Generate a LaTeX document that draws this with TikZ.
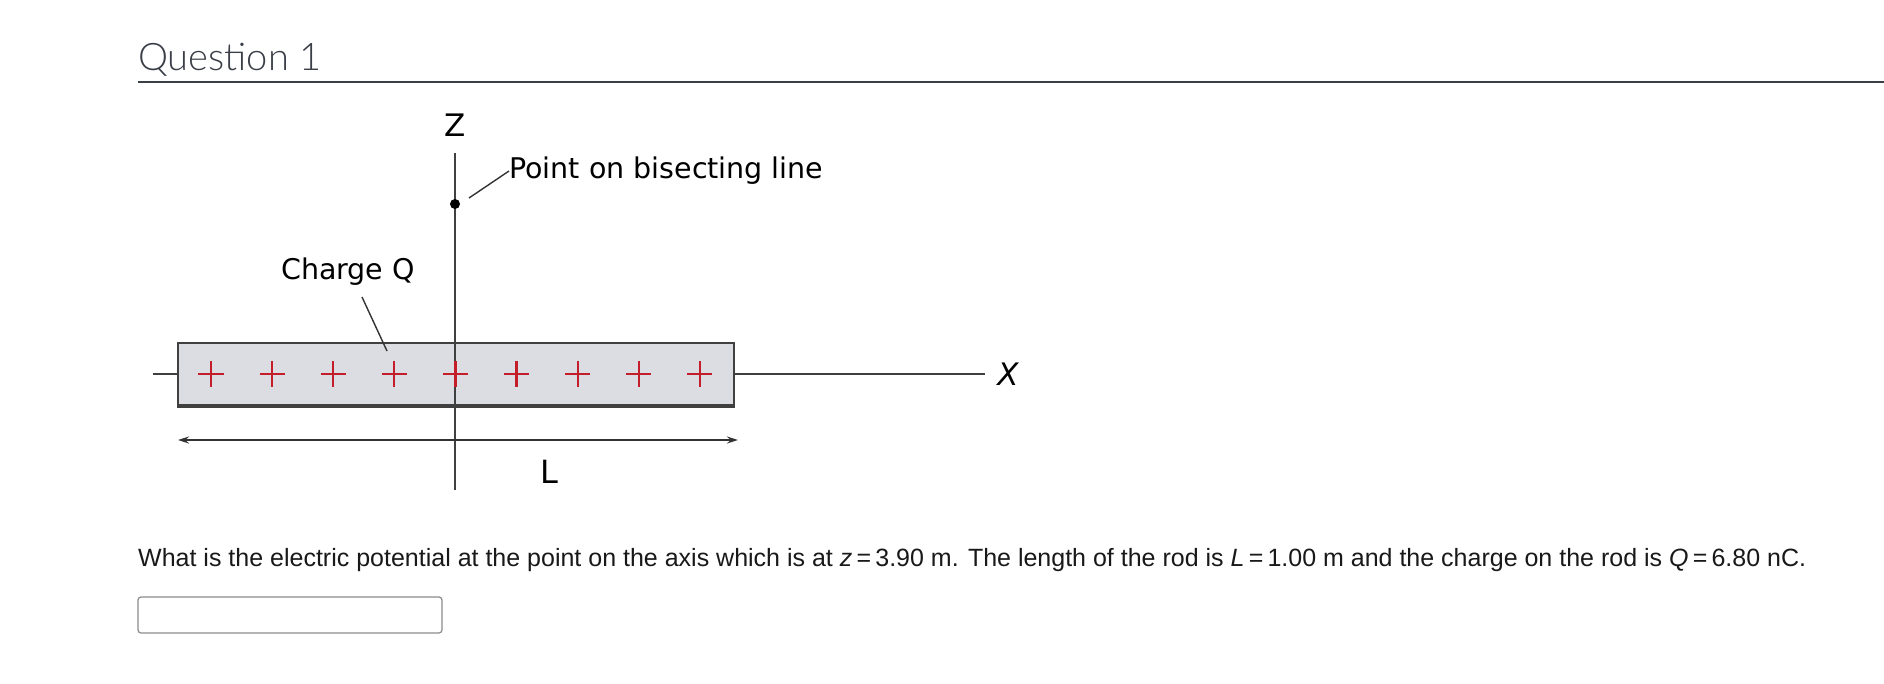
\documentclass[tikz,border=0pt]{standalone}
\usepackage{fontspec}
\setmainfont{DejaVu Sans}
\newfontfamily\quizfont{Liberation Sans}
\newfontfamily\headfont{Lato}[UprightFont={* Light}]
\usetikzlibrary{shapes,arrows,arrows.meta,positioning,calc}

\definecolor{rodfill}{HTML}{DCDCE3}
\definecolor{plusred}{HTML}{C41E2A}
\definecolor{headgray}{HTML}{3A3F47}

\begin{document}
\begin{tikzpicture}[x=1pt, y=-1pt,
    axis/.style={draw=black!75, line width=2pt},
    leader/.style={draw=black!80, line width=1.4pt},
    plussign/.style={cross out, draw=plusred, line width=2.2pt, rotate=45, minimum size=15.5pt, inner sep=0pt},
    lbl/.style={font=\fontsize{28.5}{28.5}\selectfont, inner sep=0pt}]
    \useasboundingbox[fill=white] (0,0) rectangle (1884,683);

    % Heading
    \node[anchor=base west, inner sep=0pt, text=headgray, font=\headfont\fontsize{38}{38}\selectfont] (title) at (138,70) {Question 1};
    \coordinate (ruleL) at (138,82);
    \coordinate (ruleR) at (1884,82);
    \draw[headgray, line width=1.2pt] (ruleL) -- (ruleR);

    % Rod and axes
    \node[rectangle, draw=black!75, line width=2pt, fill=rodfill, minimum width=556pt, minimum height=62pt] (rod) at (456,374) {};
    \draw[black!75, line width=3pt] (rod.south west) -- (rod.south east);
    \coordinate (xleft) at (153,374);
    \coordinate (xright) at (985,374);
    \coordinate (ztop) at (455,153);
    \coordinate (zbot) at (455,490);
    \draw[axis] (xleft) -- (rod.west);
    \draw[axis] (rod.east) -- (xright);
    \draw[axis] (ztop) -- (zbot);
    \foreach \i in {0,...,8}
        \node[plussign] (plus\i) at (211+61.1*\i,374) {};

    \node[font=\fontsize{31}{31}\selectfont, inner sep=0pt] (zlabel) at (455,125) {Z};
    \node[font=\fontsize{31}{31}\selectfont\itshape, inner sep=0pt] (xlabel) at (1008,374) {X};

    % Point on the z axis
    \node[circle, fill=black, minimum size=10pt, inner sep=0pt] (pt) at (455,204) {};
    \node[lbl, anchor=west] (ptlabel) at (509,171) {Point on bisecting line};
    \coordinate (ptfoot) at (469,198);
    \draw[leader] (ptfoot) -- (ptlabel.west);

    \node[lbl] (qlabel) at (348,272) {Charge Q};
    \coordinate (qtop) at (362,297);
    \coordinate (qfoot) at (387,351);
    \draw[leader] (qtop) -- (qfoot);

    % Length of the rod
    \coordinate (dimL) at (178,440);
    \coordinate (dimR) at (738,440);
    \draw[{Stealth[length=11pt,width=7pt]}-{Stealth[length=11pt,width=7pt]}, black!80, line width=1.4pt] (dimL) -- (dimR);
    \node[font=\fontsize{32}{32}\selectfont, inner sep=0pt] (llabel) at (549,472) {L};

    % Question text and answer box
    \node[anchor=base west, inner sep=0pt, text=black!90, font=\quizfont\fontsize{25}{25}\selectfont] (question) at (138,566)
        {What is the electric potential at the point on the axis which is at \textit{z}\,=\,3.90 m. The length of the rod is \textit{L}\,=\,1.00 m and the charge on the rod is \textit{Q}\,=\,6.80 nC.};
    \node[rectangle, rounded corners=3pt, draw=black!45, line width=1.2pt, minimum width=304pt, minimum height=36pt] (answer) at (290,615) {};
\end{tikzpicture}
\end{document}
